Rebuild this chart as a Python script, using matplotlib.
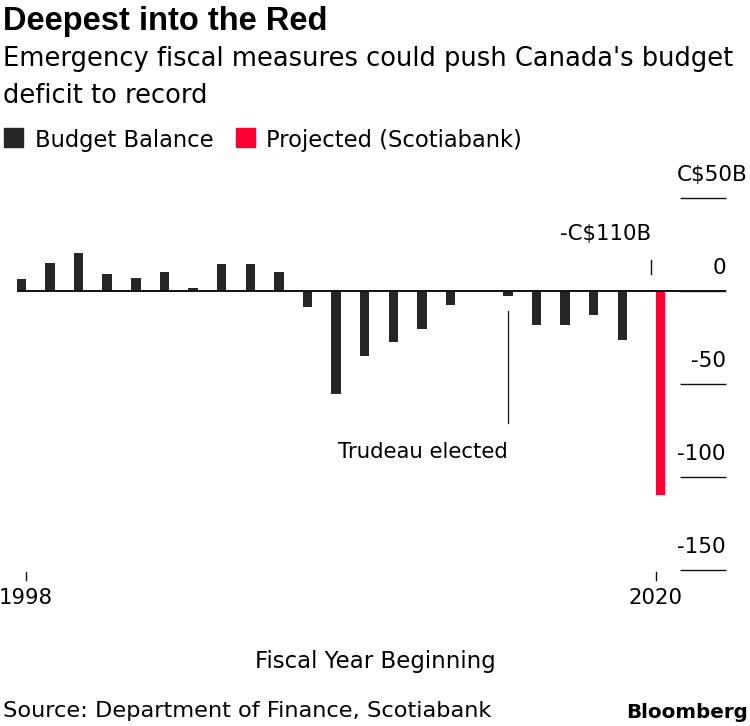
import numpy as np
import matplotlib
matplotlib.use("Agg")
import matplotlib.pyplot as plt
import matplotlib.transforms as mtransforms
from matplotlib.patches import Rectangle

# budget balance, C$ billions, by fiscal year beginning
years = list(range(1998, 2020))
balance = [6.5, 15.0, 20.3, 8.8, 6.7, 9.9, 1.5, 14.2, 14.2, 9.9, -8.9, -55.7,
           -34.9, -27.8, -20.4, -7.9, 0.0, -2.7, -18.3, -18.3, -13.1, -26.7]
proj_years = [2020]
projected = [-110.0]

y_ticks = [50, 0, -50, -100, -150]
y_tick_labels = ["C$50B", "0", "-50", "-100", "-150"]
x_ticks = [1998, 2020]

W, H = 750, 726
BLACK = "#262626"
RED = "#ff0033"
plt.rcParams['font.family'] = ['DejaVu Sans']

fig = plt.figure(figsize=(W / 100, H / 100), dpi=100)


def fx(px):
    return px / W


def fy(py):
    return 1 - py / H


# axes box in pixels
ax_l, ax_r, ax_t, ax_b = 16.7, 680.0, 197.7, 569.7
ax = fig.add_axes([fx(ax_l), fy(ax_b), fx(ax_r - ax_l), (ax_b - ax_t) / H])
ax.set_xlim(1997.673, 2020.85)
ax.set_ylim(-150, 50)
ax.axis("off")

w = 0.332
ax.bar(np.array(years) - w / 2, balance, w, color=BLACK, zorder=2)
ax.bar(np.array(proj_years) + w / 2, projected, w, color=RED, zorder=2)

# right-side y ticks, lines outside the plot with labels above them
tick_len = 46 / (ax_r - ax_l)
yblend = mtransforms.blended_transform_factory(ax.transAxes, ax.transData)
for v, lab in zip(y_ticks, y_tick_labels):
    ax.plot([1.0, 1.0 + tick_len], [v, v], transform=yblend, color="#111111",
            lw=1.0, clip_on=False, solid_capstyle="butt")
    # the unit suffix on the top label hangs past the tick end
    dx = 22 if lab.endswith("B") else 0
    tr = mtransforms.offset_copy(yblend, fig=fig, x=dx, y=17, units="dots")
    ax.text(1.0 + tick_len, v, lab, transform=tr, ha="right",
            va="baseline", fontsize=15.5, color="black")

# zero line across the plot to the tick
ax.plot([0, 1.0 + tick_len], [0, 0], transform=yblend, color="#111111",
        lw=1.4, clip_on=False, zorder=3, solid_capstyle="butt")

# x ticks and labels
xblend = mtransforms.blended_transform_factory(ax.transData, fig.transFigure)
for yr in x_ticks:
    ax.plot([yr, yr], [fy(571.7), fy(580)], transform=xblend, color="#111111",
            lw=1.0, clip_on=False)
    ax.text(yr, fy(604.5), str(yr), transform=xblend, ha="center",
            va="baseline", fontsize=15.3, color="black")

# annotations
ax.plot([2020 - w / 2] * 2, [9.0, 16.5], color="#111111", lw=1.0)
ax.text(2020 - w / 2, 27.3, "-C$110B", ha="right", va="baseline",
        fontsize=15.3, color="black")
ax.plot([2015 - w / 2] * 2, [-11.1, -71.1], color="#111111", lw=0.9)
ax.text(2015 - w / 2, -89.8, "Trudeau elected", ha="right", va="baseline",
        fontsize=15.3, color="black")

# header
fig.text(fx(3.3), fy(30), "Deepest into the Red", fontsize=23.5, weight="bold",
         family="Liberation Sans", ha="left", va="baseline")
fig.text(fx(3.3), fy(66), "Emergency fiscal measures could push Canada's budget",
         fontsize=18.5, ha="left", va="baseline")
fig.text(fx(3.3), fy(102.7), "deficit to record", fontsize=18.5, ha="left",
         va="baseline")

# legend
fig.patches.append(Rectangle((fx(4), fy(146.7)), fx(19.3), 18.3 / H,
                             transform=fig.transFigure, color=BLACK))
fig.text(fx(35), fy(146.7), "Budget Balance", fontsize=16.3, ha="left",
         va="baseline")
fig.patches.append(Rectangle((fx(236), fy(146.7)), fx(19.3), 18.3 / H,
                             transform=fig.transFigure, color=RED))
fig.text(fx(265.7), fy(146.7), "Projected (Scotiabank)", fontsize=16.3,
         ha="left", va="baseline")

# footer
fig.text(fx(375.8), fy(668.3), "Fiscal Year Beginning", fontsize=16.5,
         ha="center", va="baseline")
fig.text(fx(3.3), fy(717.3), "Source: Department of Finance, Scotiabank",
         fontsize=16.2, ha="left", va="baseline")
fig.text(fx(748.3), fy(717.7), "Bloomberg", fontsize=14.3, weight="bold",
         ha="right", va="baseline")

fig.savefig("out.png", dpi=100)
